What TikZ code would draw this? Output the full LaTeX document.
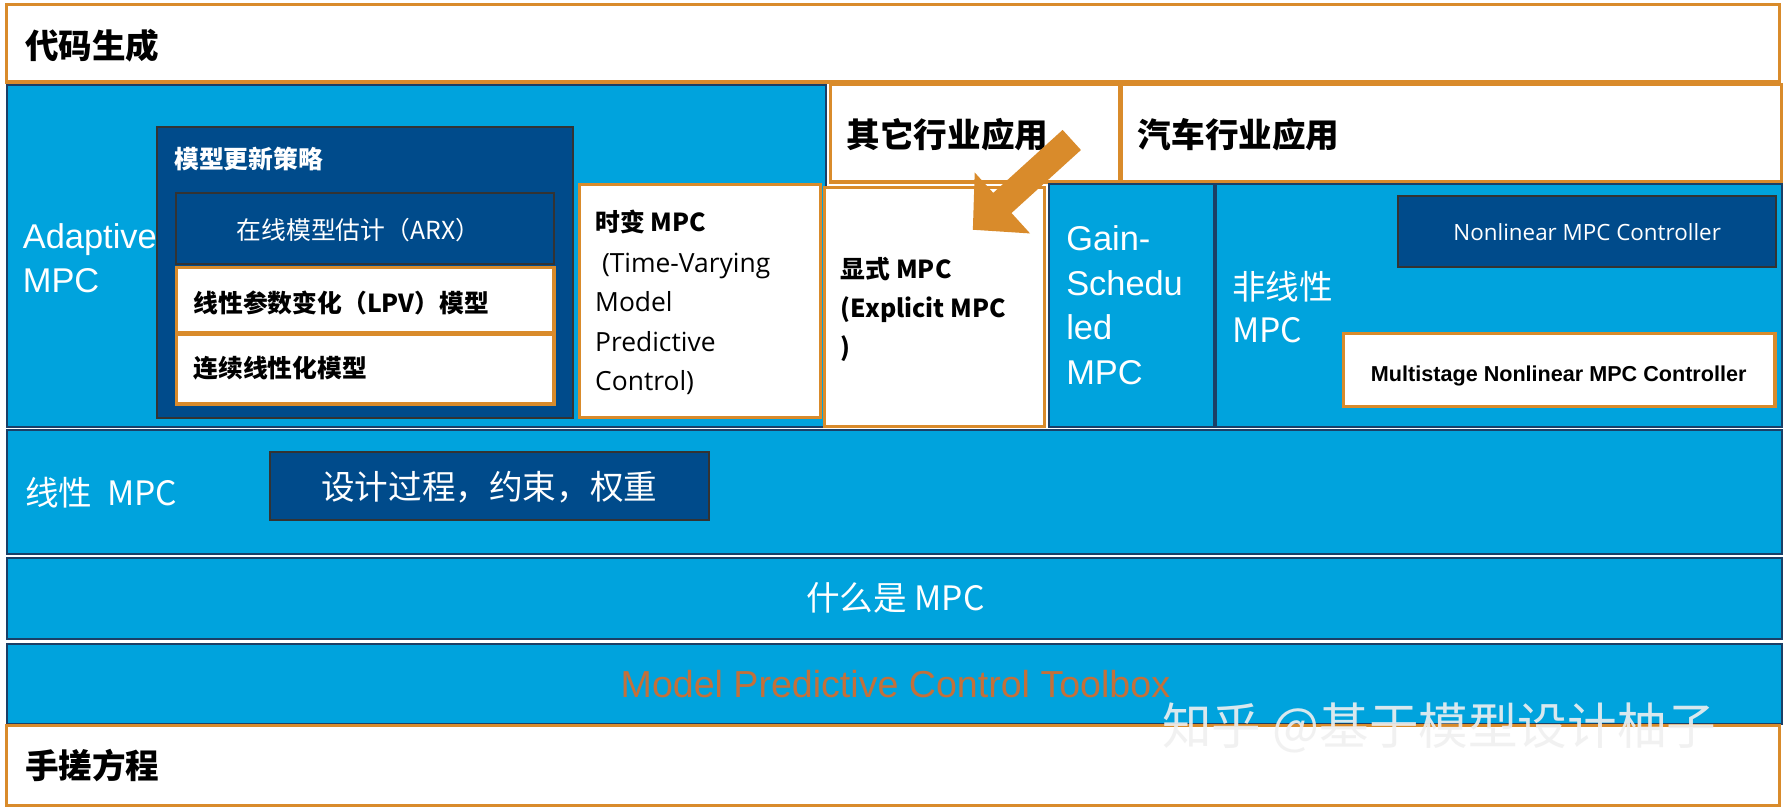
\documentclass[tikz,border=0pt]{standalone}
\usepackage{fontspec}
\setmainfont{Liberation Sans}
\newfontfamily\cjk{Noto Sans CJK SC}
\newfontfamily\osans{Open Sans}
\usetikzlibrary{fit,arrows.meta}
\definecolor{mblue}{HTML}{00A3DD}
\definecolor{dblue}{HTML}{004B8B}
\definecolor{orng}{HTML}{D98B2B}
\definecolor{tbx}{HTML}{C4703A}
\definecolor{edge}{HTML}{1B3F66}
\tikzset{
 bluebox/.style={fill=mblue,draw=edge,line width=2.5pt,inner sep=0pt},
 darkbox/.style={fill=dblue,draw=black!80,line width=2.5pt,inner sep=0pt},
 whitebox/.style={fill=white,draw=orng,line width=4pt,inner sep=0pt},
 lbl/.style={anchor=west,inner sep=0pt,align=left},
}
\begin{document}
\begin{tikzpicture}[x=0.05cm,y=-0.05cm]
\useasboundingbox (0,0) rectangle (1568,712);
\fill[white] (0,0) rectangle (1568,712);
% top
\node[whitebox,fit={(6,4)(1564,72)}] (top) {};
\node[lbl] (toptx) at (22,40) {\cjk\fontsize{42}{48}\selectfont\bfseries 代码生成};
% adaptive
\node[bluebox,fit={(6,75)(726,375)}] (adapt) {};
\node[lbl,text=white,font=\fontsize{43}{54}\selectfont] (adtx) at (20,227) {Adaptive\\MPC};
\node[darkbox,fit={(138,112)(504,367)}] (upd) {};
\node[lbl,text=white] (updtx) at (153,140) {\cjk\fontsize{31}{36}\selectfont\bfseries 模型更新策略};
\node[darkbox,fit={(155,170)(487,232)}] (arx) {};
\node[text=white,inner sep=0] (arxtx) at (315,202) {\cjk\fontsize{31}{36}\selectfont 在线模型估计（ARX）};
\node[whitebox,fit={(155,235)(487,292)}] (lpv) {};
\node[lbl] (lpvtx) at (170,266) {\cjk\fontsize{31}{36}\selectfont\bfseries 线性参数变化（LPV）模型};
\node[whitebox,fit={(155,294)(487,355)}] (cl) {};
\node[lbl] (cltx) at (170,324) {\cjk\fontsize{31}{36}\selectfont\bfseries 连续线性化模型};
% time varying
\node[whitebox,fit={(509,162)(721,367)}] (tv) {};
\node[lbl] (tvt1) at (523,195) {\cjk\fontsize{31}{36}\selectfont\bfseries 时变 MPC};
\node[lbl,anchor=north west,font=\osans\fontsize{33}{49.5}\selectfont] (tvt2) at (523,222) {\ (Time-Varying\\Model\\Predictive\\Control)};
% industries
\node[whitebox,fit={(730,74)(984,160)}] (oth) {};
\node[lbl] (othtx) at (744,118) {\cjk\fontsize{42}{48}\selectfont\bfseries 其它行业应用};
\node[whitebox,fit={(986,74)(1566,160)}] (car) {};
\node[lbl] (cartx) at (1000,118) {\cjk\fontsize{42}{48}\selectfont\bfseries 汽车行业应用};
% explicit
\node[whitebox,fit={(725,165)(918,375)}] (exp) {};
\node[lbl,anchor=north west,font=\cjk\fontsize{31}{49}\selectfont\bfseries] (exptx) at (739,226) {显式 MPC\\(Explicit MPC\\)};
% gain scheduled
\node[bluebox,fit={(922,162)(1067,375)}] (gs) {};
\node[lbl,text=white,anchor=north west,font=\fontsize{43}{56}\selectfont] (gstx) at (937,198) {Gain-\\Schedu\\led\\MPC};
% nonlinear
\node[bluebox,fit={(1069,162)(1566,375)}] (nl) {};
\node[lbl,text=white,anchor=north west,font=\cjk\fontsize{42}{54}\selectfont] (nltx) at (1083,238) {非线性\\MPC};
\node[darkbox,fit={(1229,172)(1561,235)}] (nmc) {};
\node[text=white,inner sep=0] (nmctx) at (1395,204) {\osans\fontsize{28}{32}\selectfont Nonlinear MPC Controller};
\node[whitebox,fit={(1181,293)(1560,357)}] (ms) {};
\node[inner sep=0] (mstx) at (1370,330) {\fontsize{27}{32}\selectfont\bfseries Multistage Nonlinear MPC Controller};
% arrow
\coordinate (a1) at (942,123);
\coordinate (a2) at (855,202);
\draw[orng,line width=34pt,-{Triangle[length=50pt,width=100pt]}] (a1) -- (a2);
% linear
\node[bluebox,fit={(6,378)(1566,487)}] (lin) {};
\node[lbl,text=white] (lintx) at (22,433) {\cjk\fontsize{42}{48}\selectfont 线性\ \ MPC};
\node[darkbox,fit={(237,397)(623,457)}] (dsg) {};
\node[text=white,inner sep=0] (dsgtx) at (430,428) {\cjk\fontsize{42}{48}\selectfont 设计过程，约束，权重};
% what is
\node[bluebox,fit={(6,490)(1566,562)}] (what) {};
\node[text=white,inner sep=0] (whattx) at (787,525) {\cjk\fontsize{42}{48}\selectfont 什么是 MPC};
\node[bluebox,fit={(6,566)(1566,636)}] (tb) {};
\node[text=tbx,inner sep=0] (tbtx) at (787,601) {\fontsize{47}{52}\selectfont Model Predictive Control Toolbox};
% bottom
\node[whitebox,fit={(6,638)(1564,708)}] (bot) {};
\node[lbl] (bottx) at (22,673) {\cjk\fontsize{42}{48}\selectfont\bfseries 手搓方程};
% watermark
\node[text=white!88!gray,opacity=0.9,inner sep=0] (wm) at (1265,640) {\cjk\fontsize{62}{70}\selectfont 知乎 @基于模型设计柚子};
\end{tikzpicture}
\end{document}
